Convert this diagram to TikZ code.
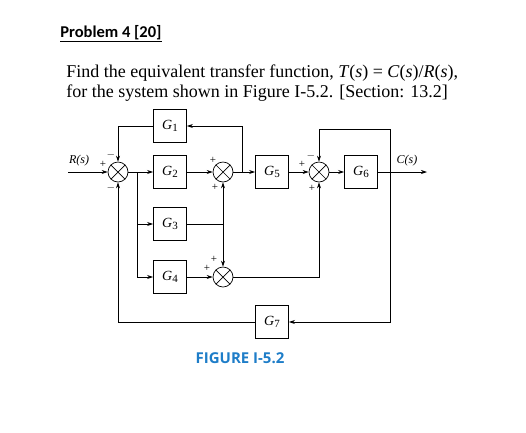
\documentclass[tikz,border=0pt]{standalone}
\usepackage{fontspec}
\setmainfont{Liberation Serif}
\newfontfamily\titlefont{Carlito}
\newfontfamily\figfont{Open Sans}
\usetikzlibrary{arrows.meta}
\definecolor{figblue}{RGB}{30,125,200}
\newcommand{\gsub}[1]{\textit{G}\raisebox{-0.35ex}{\fontsize{11}{11}\selectfont #1}}

\begin{document}
\begin{tikzpicture}[x=1pt,y=-1pt,line width=0.7pt,>={Stealth[length=6pt,width=4pt]}]
\tikzstyle{block}=[draw,line width=0.9pt,minimum width=33pt,minimum height=33pt,inner sep=0pt,font=\fontsize{14}{14}\selectfont]
\tikzstyle{sumj}=[draw,circle,minimum size=20pt,inner sep=0pt,path picture={\draw (path picture bounding box.north west) -- (path picture bounding box.south east) (path picture bounding box.north east) -- (path picture bounding box.south west);}]
\tikzstyle{sign}=[inner sep=0pt,font=\fontsize{11}{11}\selectfont]
\tikzstyle{sig}=[inner sep=0pt,font=\itshape\fontsize{12}{12}\selectfont]
\useasboundingbox (0,0) rectangle (526,432);
% heading and question
\node[anchor=base west,inner sep=0pt,font=\titlefont\bfseries\fontsize{16.5}{16.5}\selectfont] (title) at (60,37) {\underline{Problem 4 [20]}};
\node[anchor=base west,inner sep=0pt,font=\fontsize{18}{18}\selectfont] (line1) at (66,77) {Find the equivalent transfer function, \textit{T}(\textit{s}) = \textit{C}(\textit{s})/\textit{R}(\textit{s}),};
\node[anchor=base west,inner sep=0pt,font=\fontsize{18}{18}\selectfont] (line2) at (66,97) {for the system shown in Figure I-5.2. [Section: 13.2]};
% blocks
\node[block] (g1) at (170,126) {\gsub{1}};
\node[block] (g2) at (170,172) {\gsub{2}};
\node[block] (g3) at (170,224) {\gsub{3}};
\node[block] (g4) at (170,277) {\gsub{4}};
\node[block] (g5) at (272,172) {\gsub{5}};
\node[block] (g6) at (361,172) {\gsub{6}};
\node[block] (g7) at (272,322) {\gsub{7}};
% summing junctions
\node[sumj] (s1) at (118,172) {};
\node[sumj] (s2) at (223,172) {};
\node[sumj] (s3) at (223,277) {};
\node[sumj] (s4) at (319,172) {};
% branch points
\coordinate (in) at (68,172);
\coordinate (out) at (427,172);
\coordinate (b1) at (137,172);
\coordinate (b2) at (242,172);
\coordinate (b3) at (223,224);
\coordinate (b4) at (390,172);
% forward path
\draw[->] (in) -- (s1);
\draw[->] (s1) -- (g2);
\draw[->] (g2) -- (s2);
\draw[->] (s2) -- (g5);
\draw[->] (g5) -- (s4);
\draw[->] (s4) -- (g6);
\draw[->] (g6) -- (out);
% parallel branches
\draw[->] (b1) |- (g3);
\draw[->] (b1) |- (g4);
\draw (g3) -- (b3);
\draw[->] (b3) -- (s2);
\draw[->] (b3) -- (s3);
\draw[->] (g4) -- (s3);
\draw[->] (s3) -| (s4);
% feedback loops
\draw[->] (b2) |- (g1);
\draw[->] (g1) -| (s1);
\draw[->] (b4) -- ++(0,-43) -| (s4);
\draw[->] (b4) |- (g7);
\draw[->] (g7) -| (s1);
% signal labels
\node[sig] (rs) at (79,161) {R(s)};
\node[sig] (cs) at (407,161) {C(s)};
% signs
\node[sign] at (103,164) {+};
\node[sign] at (111,155) {$-$};
\node[sign] at (111,188) {$-$};
\node[sign] at (213,160) {+};
\node[sign] at (215,187) {+};
\node[sign] at (214,259) {+};
\node[sign] at (207,268) {+};
\node[sign] at (302,164) {+};
\node[sign] at (311,156) {$-$};
\node[sign] at (312,188) {+};
% caption
\node[font=\figfont\bfseries\fontsize{15}{15}\selectfont,text=figblue,inner sep=0pt] (caption) at (240,358) {FIGURE I-5.2};
\end{tikzpicture}
\end{document}
